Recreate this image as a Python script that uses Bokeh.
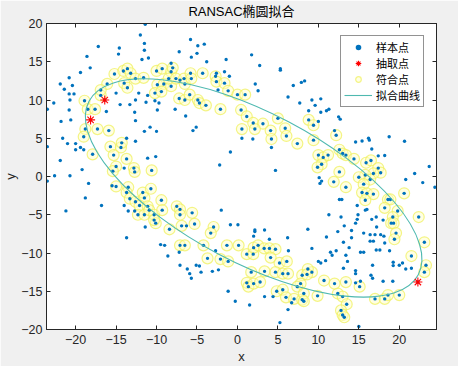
from bokeh.plotting import figure
from bokeh.models import Range1d, LinearAxis, FixedTicker, Legend, LegendItem, CustomLabelingPolicy
from bokeh.embed import file_html
from bokeh.resources import INLINE

# ---------------- data ----------------
inlier_x = [-18.9, -18.5, -17.6, -16.9, -16.1, -16.9, -15.2, -14.1, -13.6, -13.2, -14.0, -13.6, -12.6, -11.6,
            -10.0, -9.3, -9.9, -10.2, -9.1, -15.9, -18.8, -17.3, -19.0, -17.9, -15.7, -14.4, -14.3, -15.3,
            -13.7, -15.0, -15.4, -12.8, -12.7, -10.6, -15.0, -13.5, -13.7, -13.3, -12.6, -11.7, -10.7, -11.5,
            -12.1, -11.1, -12.3, -11.5, -10.9, -10.3, -9.4, -9.3, -10.1, -10.3,
            -8.2, -8.0, -9.4, -8.2, -8.5, -7.6, -6.6, -6.5, -5.8, -5.7, -4.3, -7.2, -6.5, -5.9, -4.9, -4.7,
            -3.9, -2.1, -2.7, -2.6, -1.6, -1.15, 0.0, 0.95, 0.45, 1.15, 1.95, 3.15, 0.55, 2.15, 4.1, 5.0,
            4.2, 5.9, 6.05, 7.4,
            8.8, 9.4, 9.4, 12.2, 12.6, 13.0, 13.4, 10.0, 10.6, 11.2, 10.4, 9.9, 14.4, 15.9, 16.5, 17.4, 17.7,
            16.8, 15.8, 16.4, 15.0, 15.6, 12.6, 11.9, 13.4, 15.4, 16.0, 16.8, 15.8, 20.6, 18.6, 18.9, 18.2,
            19.8, 22.4, 19.2, 19.0, 19.3, 19.6, 19.4, 21.5, 23.1, 23.3, 23.1,
            -7.5, -7.1, -7.1, -5.6, -5.3, -6.9, -8.4, -2.95, -3.3, -7.1, -6.5, -4.2, -3.7, -2.1, -1.3, -1.15,
            0.14, 1.15, 1.95, 2.0, 2.55, 3.3, 3.95, 4.7, 4.1, 5.2, 6.1, 1.7, 1.15, 1.35, 2.0, 2.8, 3.35, 4.7,
            5.6, 6.25, 4.85, 5.6, 6.0, 7.0, 8.0, 8.0, 7.8, 7.4,
            9.2, 8.7, 8.6, 8.2, 8.2, 9.9, 12.4, 13.0, 13.5, 12.8, 13.0, 13.2, 17.0, 18.2, 18.6, 20.0, 13.4,
            15.1, 12.0, 10.7]
inlier_y = [9.9, 8.8, 8.8, 10.6, 12.1, 11.3, 13.4, 13.8, 14.1, 13.5, 12.2, 11.6, 12.8, 12.9,
            13.8, 14.1, 12.0, 10.9, 12.1, 6.0, 6.2, 6.2, 5.2, 2.9, 3.9, 3.8, 4.4, 2.8,
            2.3, 1.3, 0.7, 1.1, 0.6, 0.8, -1.3, -1.4, -2.1, -2.9, -3.3, -2.1, -1.6, -2.8,
            -3.8, -3.9, -5.0, -5.0, -4.4, -5.0, -3.1, -4.4, -6.1, -5.7,
            13.7, 14.2, 11.1, 11.8, 12.8, 12.8, 12.8, 12.1, 13.5, 12.8, 13.5, 10.2, 10.0, 10.7, 10.0, 9.6,
            9.3, 8.8, 13.1, 12.4, 12.2, 11.2, 10.7, 10.7, 8.7, 7.85, 7.0, 6.9, 6.2, 6.2, 6.0, 7.6,
            4.9, 6.3, 5.3, 4.3,
            7.4, 6.7, 4.75, 5.4, 3.5, 3.0, 2.8, 2.8, 2.5, 2.8, 1.6, 1.2, 2.3, 1.8, 2.1, 1.1, 0.5,
            0.4, 0.2, -0.4, -0.1, -1.0, 0.6, -0.7, -1.4, -2.1, -2.2, -2.3, -3.1, -2.2, -3.0, -3.0, -4.1,
            -4.5, -5.3, -5.3, -6.1, -6.1, -7.4, -8.2, -10.4, -8.6, -11.6, -12.5,
            -3.9, -4.3, -5.0, -4.75, -6.2, -6.45, -6.9, -6.6, -7.4, -9.0, -9.0, -9.0, -10.7, -10.8, -9.0, -11.1,
            -9.0, -10.15, -10.15, -9.3, -9.0, -9.4, -9.4, -9.5, -10.6, -11.3, -11.1, -12.5, -13.9, -14.4, -14.0,
            -13.8, -12.4, -12.5, -12.7, -12.7, -15.0, -14.8, -15.8, -16.0, -16.1, -12.9, -14.0, -14.4,
            -12.5, -12.1, -12.8, -15.3, -16.3, -15.6, -15.3, -15.7, -16.7, -17.5, -18.1, -18.4, -16.0, -16.0,
            -15.5, -15.5, -13.8, -14.4, -14.0, -13.6]

outlier_x = [-11.4, -12.0, -17.2, -14.6, -14.7, -11.5, -11.5, -11.8, -11.0, -18.6, -18.2, -19.4, -20.8, -21.9,
             -20.4, -21.4, -20.8, -20.2, -20.7, -22.7, -23.5, -20.8, -20.6, -21.8, -15.0, -14.5, -13.3, -12.6,
             -12.7, -12.6, -12.2, -11.1, -11.3, -10.2, -9.9, -16.2,
             -21.6, -21.0, -20.0, -20.0, -19.4, -19.0, -23.5, -21.9, -22.6, -20.7, -23.5, -19.2, -18.4, -18.8,
             -21.2, -16.8, -13.7, -11.4, -13.7, -12.6, -11.5, -10.8, -10.0, -11.1, -10.1, -14.0, -15.5, -14.0,
             -13.5, -12.7,
             -5.8, -4.9, -4.1, -5.0, -5.7, -7.2, -3.8, -1.4, 1.75, 2.75, 5.3, 5.3, 6.9, 7.9, 7.7, 6.25, 2.2,
             2.55, -2.4, -2.6, -1.6, -1.0, -7.1, -8.2, -7.7, -6.4, -5.5, -5.1, -9.7,
             8.3, 9.2, 10.3, 9.6, 8.8, 10.3, 11.0, 11.3, 12.5, 12.7, 10.0, 12.0,
             0.55, 1.9, 4.2, -0.87, -2.2, 4.7, -2.0, -0.87, 0.06, 2.15, 3.35, 2.0, 6.2, -6.3,
             14.6, 15.4, 16.2, 16.3, 18.75, 20.65, 16.6, 17.4, 18.2, 10.1, 10.4, 10.2, 12.6, 12.9, 14.8, 15.8,
             16.0, 11.3, 12.8, 14.9, 14.8, 16.6, 17.15, 18.0, 13.2, 14.6, 17.2, 8.7, 11.0, 12.4, 14.1, 15.6,
             16.4, 17.0, 17.7, 23.7, 24.4, 22.9, 21.9, 20.8,
             -9.5, -9.0, -8.6, -7.2, -7.1, -6.2, -5.9, -5.7, -5.1, -4.7, -4.5, -3.1, -2.35, -2.7, -1.15, -0.27,
             1.5, 2.15, 3.95, 6.3, 3.35, 4.4, 6.7, 6.25, 5.25,
             9.2, 10.0, 10.3, 10.9, 11.7, 11.5, 12.2, 13.1, 13.1, 13.4, 13.6, 13.8, 14.1, 14.6, 14.6, 15.2,
             15.6, 16.4, 16.8, 17.15, 17.6, 18.1, 18.8, 18.2, 19.25, 19.25, 20.0, 20.4, 20.8, 21.5, 16.7, 16.5,
             16.7, 18.0, 19.2, 15.2, 14.6, 15.0]
outlier_y = [19.9, 18.5, 17.0, 16.8, 16.0, 17.4, 16.5, 15.3, 15.5, 15.7, 14.2, 13.6, 12.9, 12.1,
             11.9, 11.4, 10.8, 10.8, 10.0, 9.6, 8.8, 8.7, 7.4, 7.2, 10.9, 9.4, 9.4, 10.0,
             8.4, 7.3, 10.9, 10.6, 9.7, 9.9, 8.7, 8.5,
             5.0, 4.3, 4.3, 3.5, 3.8, 3.5, 3.9, 2.1, 0.1, 0.1, -0.6, 0.9, -0.9, -2.8,
             -4.5, -3.8, -8.0, -6.6, 5.0, 4.6, 5.9, 6.45, 5.9, 2.4, 2.6, 1.1, -1.2, -3.8,
             -4.5, -4.5,
             17.9, 17.1, 17.3, 16.1, 15.6, 16.3, 15.0, 15.3, 15.9, 14.5, 14.1, 13.9, 11.9, 12.3, 9.6, 10.4, 12.1,
             11.2, 11.3, 13.5, 13.7, 13.1, 12.6, 14.8, 8.8, 7.9, 6.0, 6.45, 9.6,
             12.5, 10.0, 10.15, 9.3, 8.6, 8.4, 8.6, 8.8, 7.8, 7.5, 7.2, 6.0,
             5.0, 4.9, 3.8, 3.2, 1.5, 0.8, -4.4, -6.3, -6.3, -7.0, -7.0, -7.8, -8.0, -6.45,
             4.5, 4.65, 5.0, 4.75, 5.2, 4.6, 3.6, 2.7, 2.75, -0.15, -0.6, -0.9, -3.0, -3.0, -3.8, -4.4,
             -4.3, -5.0, -5.3, -5.0, -5.6, -5.6, -5.3, -5.7, -6.45, -6.1, -6.6, -6.9, -7.9, -7.2, -7.05, -7.4,
             -7.6, -7.6, -7.6, 1.3, -1.4, -0.8, 0.4, -0.4,
             -8.9, -9.0, -10.4, -9.9, -11.6, -12.1, -12.7, -13.3, -11.6, -11.7, -12.5, -12.4, -12.2, -9.7, -15.0,
             -16.3, -16.8, -7.2, -8.2, -9.7, -15.7, -15.7, -16.5, -17.4, -19.1,
             -9.4, -11.1, -11.3, -11.0, -10.3, -9.9, -9.7, -8.6, -12.0, -10.3, -11.1, -9.3, -8.0, -12.3, -12.7,
             -9.9, -9.9, -8.45, -8.45, -9.6, -9.6, -7.8, -9.7, -8.7, -11.2, -11.65, -11.6, -11.3, -12.1, -12.0,
             -11.6, -12.9, -13.3, -13.7, -13.7, -13.7, -13.9, -19.6]

# points drawn for the fit (red asterisks)
sampled_x = [-16.4, -18.15, 22.3]
sampled_y = [10.0, 7.4, -13.8]

# fitted ellipse: centre, full width / height, rotation (radians)
ell_cx = [2.0]
ell_cy = [-1.5]
ell_w = [46.0]
ell_h = [19.57]
ell_angle = [-0.485]

x_ticks = [-20, -15, -10, -5, 0, 5, 10, 15, 20]
y_ticks = [-20, -15, -10, -5, 0, 5, 10, 15, 20]

all_x = inlier_x + outlier_x + sampled_x
all_y = inlier_y + outlier_y + sampled_y

# ---------------- figure ----------------
AX = "#262626"
CURVE = "#4FB9B0"

p = figure(width=458, height=366,
           x_range=Range1d(-23.6, 24.6), y_range=Range1d(-20, 20),
           output_backend="svg", toolbar_location=None,
           title="RANSAC椭圆拟合",
           min_border_left=36, min_border_right=22, min_border_top=21, min_border_bottom=36,
           background_fill_color="white", border_fill_color="#F0F0F0")
p.xgrid.visible = False
p.ygrid.visible = False
p.outline_line_color = AX

p.title.text_font = "Liberation Sans, Noto Sans CJK SC"
p.title.text_font_size = "13px"
p.title.text_font_style = "normal"
p.title.text_color = "#000000"
p.title.align = "center"
p.title.standoff = 2

hide_all = CustomLabelingPolicy(code="""
    for (const i of Array.from(indices)) { indices.unset(i) }
    return indices
""")


def style_axis(ax, ticks, labels=True):
    ax.ticker = FixedTicker(ticks=ticks)
    ax.major_tick_in = 4
    ax.major_tick_out = 0
    ax.minor_tick_in = 0
    ax.minor_tick_out = 0
    ax.axis_line_color = AX
    ax.major_tick_line_color = AX
    ax.major_label_text_font = "Liberation Sans"
    ax.major_label_text_color = AX
    if labels:
        ax.major_label_text_font_size = "12.5px"
    else:
        ax.major_label_text_font_size = "1px"
        ax.major_label_standoff = 0
        ax.major_label_policy = hide_all


style_axis(p.xaxis[0], x_ticks)
style_axis(p.yaxis[0], y_ticks)
p.xaxis[0].major_label_standoff = 5
p.yaxis[0].major_label_standoff = 4
p.xaxis[0].axis_label = "x"
p.yaxis[0].axis_label = "y"
for ax in (p.xaxis[0], p.yaxis[0]):
    ax.axis_label_text_font = "Liberation Sans"
    ax.axis_label_text_font_size = "13px"
    ax.axis_label_text_font_style = "normal"
    ax.axis_label_text_color = AX
p.xaxis[0].axis_label_standoff = 2
p.yaxis[0].axis_label_standoff = 0

top_ax = LinearAxis()
right_ax = LinearAxis()
style_axis(top_ax, x_ticks, labels=False)
style_axis(right_ax, y_ticks, labels=False)
p.add_layout(top_ax, "above")
p.add_layout(right_ax, "right")

# inlier markers (pale yellow circles)
r_in = p.scatter(inlier_x, inlier_y, marker="circle", size=11,
                 fill_color="#FFFFC2", fill_alpha=0.45,
                 line_color="#F0F060", line_alpha=0.75, line_width=1.2)
# all samples (blue dots)
r_pts = p.scatter(all_x, all_y, marker="circle", size=3.4,
                  fill_color="#0072BD", line_color=None)
# fitted ellipse
p.ellipse(x=ell_cx, y=ell_cy, width=ell_w, height=ell_h, angle=ell_angle,
          fill_alpha=0, line_color=CURVE, line_width=1.1)
# legend proxy for the curve: a single point at the ellipse centre draws nothing
r_curve_leg = p.line(x=ell_cx, y=ell_cy, line_color=CURVE, line_width=1.1)
# sampled points (red asterisks)
r_smp = p.scatter(sampled_x, sampled_y, marker="asterisk", size=9,
                  line_color="#FF0000", line_width=1.1)

legend = Legend(items=[
    LegendItem(label="样本点", renderers=[r_pts]),
    LegendItem(label="抽取点", renderers=[r_smp]),
    LegendItem(label="符合点", renderers=[r_in]),
    LegendItem(label="拟合曲线", renderers=[r_curve_leg]),
], location="top_right")
legend.margin = 12
legend.padding = 3
legend.spacing = 0
legend.glyph_width = 28
legend.glyph_height = 14
legend.label_height = 14
legend.label_standoff = 4
legend.label_text_font = "Noto Sans CJK SC"
legend.label_text_font_size = "11px"
legend.label_text_color = "#000000"
legend.border_line_color = AX
legend.border_line_width = 0.8
legend.background_fill_color = "white"
legend.background_fill_alpha = 1
p.add_layout(legend, "center")

open("out.html", "w").write(file_html(p, INLINE))
